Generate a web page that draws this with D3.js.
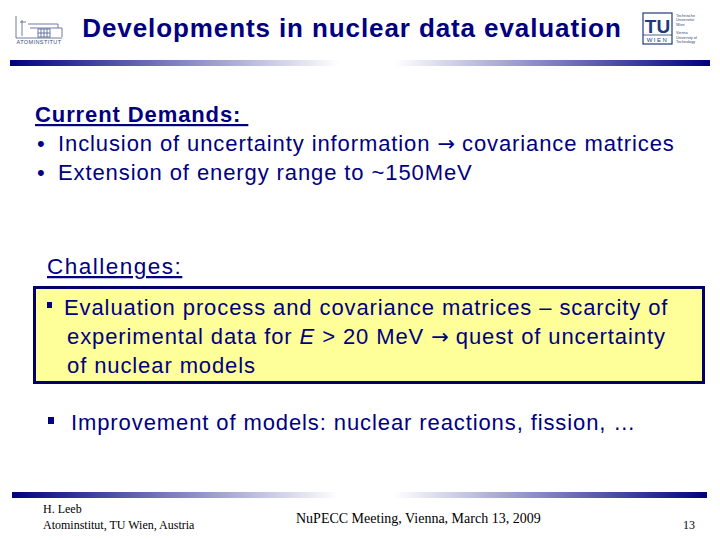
<!DOCTYPE html>
<html>
<head>
<meta charset="utf-8">
<script src="https://cdn.jsdelivr.net/npm/d3@7"></script>
<style>
  body { margin: 0; background: #fff; }
  svg { display: block; }
</style>
</head>
<body>
<script>
// Slide content
const title = "Developments in nuclear data evaluation";
const demandsHeading = "Current Demands: ";
const demands = [
  ["Inclusion of uncertainty information ", {a: "\u2192"}, " covariance matrices"],
  ["Extension of energy range to ~150MeV"]
];
const challengesHeading = "Challenges:";
const boxLines = [
  ["Evaluation process and covariance matrices \u2013 scarcity of"],
  ["experimental data for ", {i: "E"}, " > 20 MeV ", {a: "\u2192"}, " quest of uncertainty"],
  ["of nuclear models"]
];
const improvement = "Improvement of models: nuclear reactions, fission, \u2026";
const footerLeft = ["H. Leeb", "Atominstitut, TU Wien, Austria"];
const footerCenter = "NuPECC Meeting, Vienna, March 13, 2009";
const pageNumber = "13";

const W = 720, H = 540;
const navy = "#000080";
const sans = "'Liberation Sans', Arial, sans-serif";
const serif = "'Liberation Serif', 'Times New Roman', serif";

const svg = d3.select("body").append("svg")
  .attr("width", W).attr("height", H);

// gradient used by header and footer rules
const grad = svg.append("defs").append("linearGradient").attr("id", "rule");
grad.selectAll("stop")
  .data([[0, navy], [0.47, "#ffffff"], [0.55, "#ffffff"], [1, navy]])
  .join("stop")
  .attr("offset", d => d[0]).attr("stop-color", d => d[1]);

svg.append("rect").attr("x", 10).attr("y", 60).attr("width", 700).attr("height", 6)
  .attr("fill", "url(#rule)");
svg.append("rect").attr("x", 12).attr("y", 492).attr("width", 695).attr("height", 6)
  .attr("fill", "url(#rule)");

// title
svg.append("text")
  .attr("x", 352).attr("y", 37)
  .attr("text-anchor", "middle")
  .attr("font-family", sans).attr("font-weight", "bold").attr("font-size", 26)
  .attr("letter-spacing", 0.9)
  .attr("fill", navy)
  .text(title);

// Atominstitut logo (rough line drawing)
const atom = svg.append("g").attr("stroke", "#4a5a8a").attr("fill", "none").attr("stroke-width", 0.8);
atom.append("path").attr("d", "M16,16 L16,38 M16,38 L62,38 M20,22 L26,22 M22,20 L22,36 M30,28 L62,28 L62,37 M28,24 L58,24 L58,28");
atom.append("rect").attr("x", 38).attr("y", 29).attr("width", 12).attr("height", 8);
atom.append("path").attr("d", "M41,29 V37 M44,29 V37 M47,29 V37 M38,33 H50");
svg.append("text").attr("x", 39).attr("y", 44).attr("text-anchor", "middle")
  .attr("font-family", sans).attr("font-size", 5.5).attr("fill", "#3a4a7a")
  .attr("letter-spacing", 0.4).text("ATOMINSTITUT");

// TU Wien logo
const tu = svg.append("g").attr("transform", "translate(643,13)");
tu.append("rect").attr("width", 29).attr("height", 31).attr("fill", "#fff")
  .attr("stroke", "#1f3a78").attr("stroke-width", 1.2);
tu.append("text").attr("x", 14.5).attr("y", 20).attr("text-anchor", "middle")
  .attr("font-family", sans).attr("font-weight", "bold").attr("font-size", 19)
  .attr("fill", "#1f3a78").text("TU");
tu.append("line").attr("x1", 0).attr("x2", 29).attr("y1", 22).attr("y2", 22)
  .attr("stroke", "#1f3a78").attr("stroke-width", 0.8);
tu.append("text").attr("x", 14.5).attr("y", 29).attr("text-anchor", "middle")
  .attr("font-family", sans).attr("font-size", 6).attr("letter-spacing", 1.5)
  .attr("fill", "#1f3a78").text("WIEN");
tu.selectAll("text.small")
  .data(["Technische", "Universität", "Wien", "", "Vienna", "University of", "Technology"])
  .join("text").attr("class", "small")
  .attr("x", 33).attr("y", (d, i) => 4 + i * 4.3)
  .attr("font-family", sans).attr("font-size", 3.8).attr("fill", "#3a4a7a")
  .text(d => d);

// challenge box goes beneath the text
svg.append("rect").attr("x", 34.5).attr("y", 287.5).attr("width", 669).attr("height", 95)
  .attr("fill", "#ffff99").attr("stroke", "#000066").attr("stroke-width", 3);

const body = svg.append("g").attr("font-family", sans).attr("font-size", 22)
  .attr("letter-spacing", 0.9).attr("fill", navy);

function richLine(x, y, parts) {
  const t = body.append("text").attr("x", x).attr("y", y)
    .attr("xml:space", "preserve").style("white-space", "pre");
  parts.forEach(p => {
    if (typeof p === "string") t.append("tspan").text(p);
    else if (p.i) t.append("tspan").attr("font-style", "italic").text(p.i);
    else t.append("tspan").attr("font-family", "'DejaVu Sans', sans-serif")
      .attr("font-size", 21).attr("letter-spacing", 0).text(p.a);
  });
  return t;
}

// Current demands
body.append("text").attr("x", 35).attr("y", 122)
  .attr("font-weight", "bold").attr("text-decoration", "underline")
  .attr("xml:space", "preserve").style("white-space", "pre")
  .text(demandsHeading);
demands.forEach((parts, i) => {
  const y = 151 + i * 29;
  body.append("text").attr("x", 37).attr("y", y).text("\u2022");
  richLine(58, y, parts);
});

// Challenges
body.append("text").attr("x", 47).attr("y", 274)
  .attr("text-decoration", "underline").attr("font-size", 22.5).attr("letter-spacing", 1.5)
  .text(challengesHeading);

body.append("rect").attr("x", 47).attr("y", 302).attr("width", 5).attr("height", 6).attr("fill", navy);
boxLines.forEach((parts, i) => richLine(i === 0 ? 64 : 67, 315 + i * 29, parts));

// Improvement
body.append("rect").attr("x", 48).attr("y", 417).attr("width", 6).attr("height", 7).attr("fill", navy);
body.append("text").attr("x", 71).attr("y", 430).text(improvement);

// footer
const foot = svg.append("g").attr("font-family", serif).attr("fill", "#000");
foot.selectAll("text.left").data(footerLeft).join("text").attr("class", "left")
  .attr("x", 43).attr("y", (d, i) => 513 + i * 15.5)
  .attr("font-size", 12).text(d => d);
foot.append("text").attr("x", 296).attr("y", 523).attr("font-size", 14).text(footerCenter);
foot.append("text").attr("x", 695).attr("y", 529).attr("text-anchor", "end")
  .attr("font-size", 12).text(pageNumber);
</script>
</body>
</html>
